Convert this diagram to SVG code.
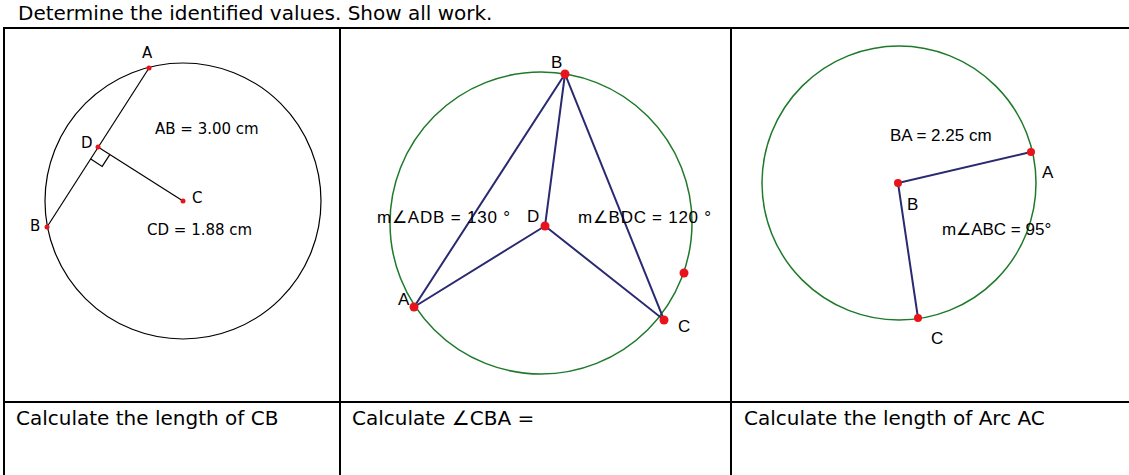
<svg xmlns="http://www.w3.org/2000/svg" width="1129" height="475" viewBox="0 0 1129 475">
<style>
.t{font-family:"DejaVu Sans",sans-serif;font-size:20px;fill:#000}
.s{font-family:"DejaVu Sans",sans-serif;font-size:15px;fill:#000}
.a{font-family:"Liberation Sans",Arial,sans-serif;font-size:17px;fill:#000}
.g{fill:none;stroke:#1e7a2a;stroke-width:1.5}
.n{stroke:#2a2a70;stroke-width:2;fill:none}
.p{fill:#e8141a}
</style>
<rect width="1129" height="475" fill="#fff"/>
<text class="t" x="18" y="20">Determine the identified values.  Show all work.</text>
<g id="table" fill="none" stroke="#000" stroke-width="2">
<path d="M4 475V28H1129M340 28V475M731 28V475M4 402H1129"/>
</g>
<g id="panel1">
<circle cx="183" cy="201" r="138" fill="none" stroke="#000" stroke-width="1.2"/>
<g id="connectors1" stroke="#000" stroke-width="1.2" fill="none">
<line x1="149" y1="68" x2="47" y2="227"/>
<line x1="98" y1="147" x2="183" y2="201"/>
<path d="M90.4 158.8L102.2 166.4L109.8 154.6"/>
</g>
<circle class="p" cx="149" cy="68" r="2.5"/><circle class="p" cx="47" cy="227" r="2.5"/>
<circle class="p" cx="98" cy="147" r="2.5"/><circle class="p" cx="183" cy="201" r="2.5"/>
<text class="s" x="142" y="58">A</text><text class="s" x="81" y="148">D</text>
<text class="s" x="192" y="203">C</text><text class="s" x="30" y="231">B</text>
<text class="s" x="155" y="134">AB = 3.00 cm</text>
<text class="s" x="147" y="235">CD = 1.88 cm</text>
</g>
<g id="panel2">
<circle cx="541" cy="223" r="151" class="g"/>
<g id="connectors2" class="n">
<path d="M565 74L414 307L545 226L565 74L664 320L545 226"/>
</g>
<circle class="p" cx="565" cy="74" r="4.5"/><circle class="p" cx="545" cy="226" r="4.5"/>
<circle class="p" cx="414" cy="307" r="4.5"/><circle class="p" cx="664" cy="320" r="4.5"/>
<circle class="p" cx="684" cy="273" r="4.5"/>
<text class="a" x="551" y="68">B</text><text class="a" x="527" y="222">D</text>
<text class="a" x="398" y="305">A</text><text class="a" x="678" y="332">C</text>
<text class="a" x="377" y="223" textLength="133">m∠ADB = 130 °</text>
<text class="a" x="578" y="223" textLength="133">m∠BDC = 120 °</text>
</g>
<g id="panel3">
<circle cx="899" cy="183" r="137" class="g"/>
<g id="connectors3" class="n">
<path d="M1031 152L898 183L918 318"/>
</g>
<circle class="p" cx="898" cy="183" r="4"/><circle class="p" cx="1031" cy="152" r="4"/>
<circle class="p" cx="918" cy="318" r="4"/>
<text class="a" x="890" y="141">BA = 2.25 cm</text>
<text class="a" x="1042" y="178">A</text><text class="a" x="907" y="210">B</text>
<text class="a" x="931" y="344">C</text>
<text class="a" x="942" y="235">m∠ABC = 95°</text>
</g>
<text class="t" x="16" y="425">Calculate the length of CB</text>
<text class="t" x="352" y="425">Calculate ∠CBA =</text>
<text class="t" x="744" y="425">Calculate the length of Arc AC</text>
</svg>
